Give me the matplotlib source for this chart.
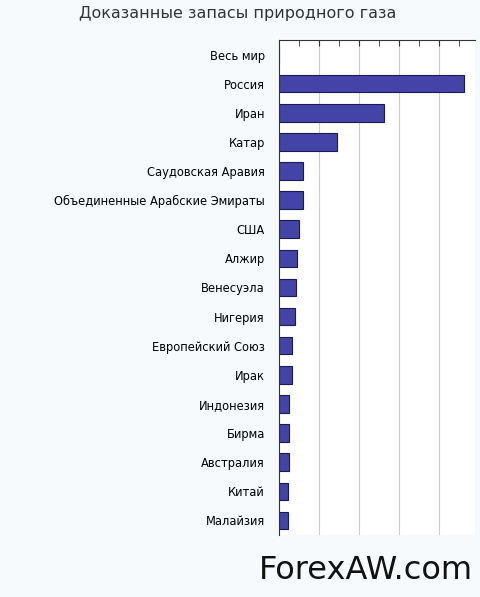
import matplotlib.pyplot as plt
import numpy as np

countries = ["Весь мир", "Россия", "Иран", "Катар", "Саудовская Аравия",
             "Объединенные Арабские Эмираты", "США", "Алжир", "Венесуэла",
             "Нигерия", "Европейский Союз", "Ирак", "Индонезия", "Бирма",
             "Австралия", "Китай", "Малайзия"]
values = [0, 46.3, 26.3, 14.5, 6.0, 6.0, 5.0, 4.5, 4.3, 4.0, 3.3, 3.2,
          2.6, 2.5, 2.5, 2.3, 2.3]

fig = plt.figure(figsize=(4.8, 5.97), dpi=100, facecolor="#f7fafc")
ax = fig.add_axes([0.581, 0.104, 0.409, 0.829])
ax.set_facecolor("white")

y = np.arange(len(countries))
ax.barh(y, values, height=0.6, color="#4444a8", edgecolor="#1a1a55", linewidth=0.8)
ax.set_ylim(len(countries) - 0.5, -0.5)
ax.set_xlim(0, 49)
ax.set_yticks(y)
ax.set_yticklabels(countries, fontsize=8.3)
ax.set_xticks([10, 20, 30, 40])
ax.set_xticks([5, 15, 25, 35, 45], minor=True)
ax.xaxis.tick_top()
ax.tick_params(axis="x", which="both", labeltop=False, direction="in", length=4, color="#333333")
ax.tick_params(axis="y", length=0, pad=10)
ax.grid(axis="x", color="#cccccc", linewidth=0.8)
ax.set_axisbelow(True)
for s in ["bottom", "right"]:
    ax.spines[s].set_visible(False)
ax.spines["top"].set_color("#333333")
ax.spines["left"].set_color("#333333")

fig.text(0.495, 0.978, "Доказанные запасы природного газа", ha="center", va="center",
         fontsize=11.5, color="#333333")
fig.text(0.985, 0.045, "ForexAW.com", ha="right", va="center", fontsize=23, color="#111111")

fig.savefig("out.png", dpi=100, facecolor=fig.get_facecolor())
